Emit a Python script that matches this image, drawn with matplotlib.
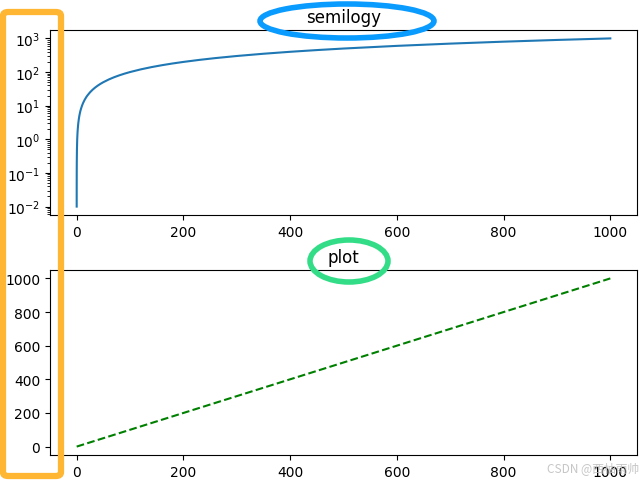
import matplotlib
matplotlib.use("Agg")
import matplotlib.pyplot as plt
from matplotlib.patches import Ellipse, FancyBboxPatch

# sample points of the curve (y equals x)
x_vals = [0.01, 0.02, 0.05, 0.1, 0.2, 0.5, 1, 1.5, 2, 3, 4, 5, 6, 7, 8, 10,
          12, 15, 18, 20, 25, 30, 35, 40, 45, 50, 60, 70, 80, 90, 100, 120,
          140, 160, 180, 200, 230, 260, 300, 350, 400, 450, 500, 600, 700,
          800, 900, 1000]
y_vals = [0.01, 0.02, 0.05, 0.1, 0.2, 0.5, 1, 1.5, 2, 3, 4, 5, 6, 7, 8, 10,
          12, 15, 18, 20, 25, 30, 35, 40, 45, 50, 60, 70, 80, 90, 100, 120,
          140, 160, 180, 200, 230, 260, 300, 350, 400, 450, 500, 600, 700,
          800, 900, 1000]

titles = ["semilogy", "plot"]
watermark = "CSDN @西柚雨帅"

W, H = 642, 481

fig, (ax1, ax2) = plt.subplots(2, 1, figsize=(W / 100, H / 100), dpi=100)
fig.subplots_adjust(left=50 / W, right=637 / W, top=1 - 31 / H,
                    bottom=1 - 456 / H, hspace=55 / 185)

ax1.semilogy(x_vals, y_vals)
ax1.set_title(titles[0])

ax2.plot(x_vals, y_vals, "g--")
ax2.set_title(titles[1])


def px_box(x0, y0, x1, y1):
    # pixel box (top-left origin) -> figure fraction
    return x0 / W, 1 - y1 / H, (x1 - x0) / W, (y1 - y0) / H


# blue ellipse round the first title
fig.add_artist(Ellipse(((259 + 435) / 2 / W, 1 - 22 / H), 174 / W, 34 / H,
                       transform=fig.transFigure, fill=False,
                       edgecolor="#0a9bff", linewidth=4))

# green ellipse round the second title
fig.add_artist(Ellipse(((310 + 388) / 2 / W, 1 - 262 / H), 78 / W, 42 / H,
                       transform=fig.transFigure, fill=False,
                       edgecolor="#33dd88", linewidth=4))

# orange frame over the y tick labels
bx, by, bw, bh = px_box(3, 13, 61, 477)
fig.add_artist(FancyBboxPatch((bx, by), bw, bh,
                              boxstyle="round,pad=0,rounding_size=0.008",
                              transform=fig.transFigure, fill=False,
                              edgecolor="#ffb733", linewidth=4.5))

fig.text(1 - 3 / W, 1 - 469 / H, watermark, ha="right", va="center",
         fontsize=8.5, color="#c0c0c0", alpha=0.9,
         family=["Noto Sans CJK SC", "DejaVu Sans"])

fig.savefig("out.png", dpi=100)
